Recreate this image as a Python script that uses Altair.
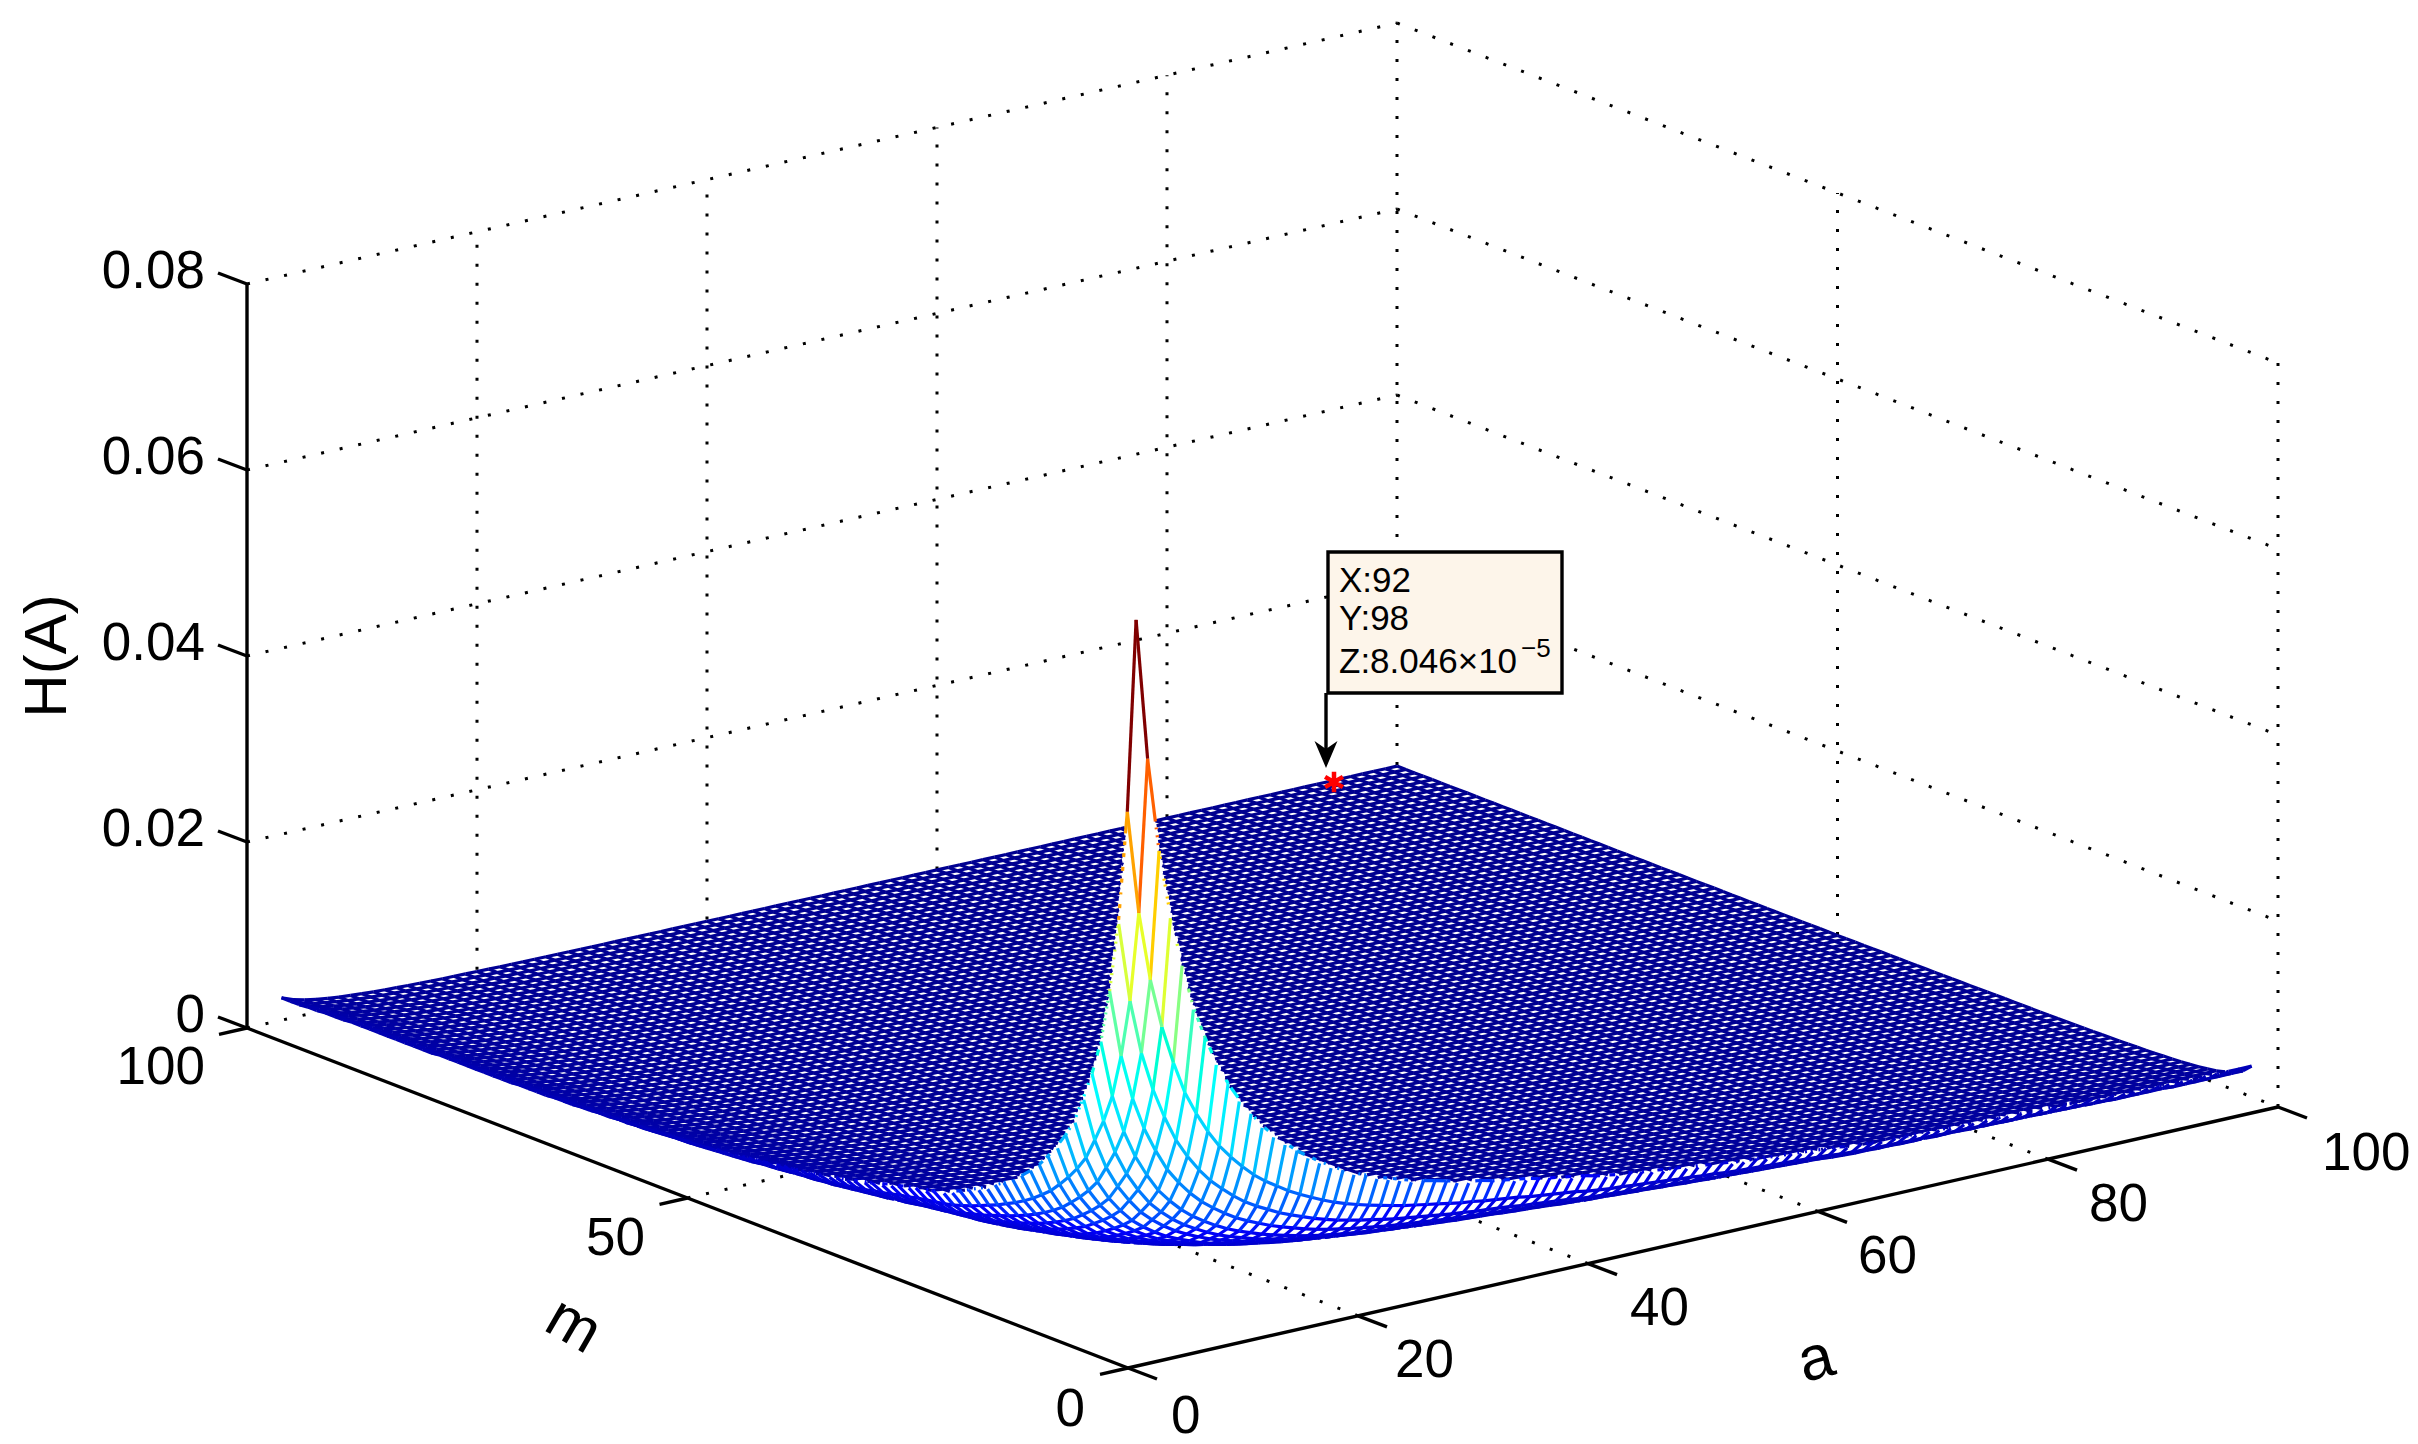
import numpy as np
import pandas as pd
import altair as alt

alt.data_transformers.disable_max_rows()

# ---- values -------------------------------------------------------------
# height along the m-edge and along the a-edge of the mesh (units of 1e-4)
edge_a = [785,633,531,458,402,354,319,289,264,244,
          226,210,197,186,175,166,158,150,143,137,
          132,127,123,119,115,112,109,106,103,100,
          98,95,93,91,89,86,84,82,80,78,
          75,73,71,70,68,67,65,64,62,61,
          59,58,56,55,54,53,52,51,50,49,
          48,47,45,44,43,43,42,42,41,41,
          41,40,40,40,39,39,39,38,38,38,
          37,37,36,36,35,35,34,34,34,34,
          34,33,33,33,33,33,33,33]
edge_m = [785,575,453,375,317,279,249,221,202,186,
          172,159,149,140,132,125,119,113,108,103,
          98,94,90,87,85,83,81,78,76,73,
          70,68,65,63,61,59,57,55,54,52,
          51,50,48,47,46,44,43,42,41,40,
          39,38,37,37,36,35,34,34,33,33,
          32,32,31,31,30,30,30,29,29,29,
          29,28,28,28,28,28,28,28,28,28,
          27,27,27,27,27,27,27,27,27,27,
          26,26,26,25,25,24,24,24]
a_ticks = [0, 20, 40, 60, 80, 100]
m_ticks = [0, 50, 100]
z_ticks = [0, 0.02, 0.04, 0.06, 0.08]
jet_pos = [0, 0.11, 0.36, 0.61, 0.86, 1]
jet_col = ["#00008f", "#0000ff", "#00ffff", "#ffff00", "#ff0000", "#800000"]

z_labels = [("0", 205, 1032), ("0.02", 205, 846), ("0.04", 205, 660), ("0.06", 205, 474), ("0.08", 205, 288)]
m_labels = [("0", 1085, 1426), ("50", 645, 1255), ("100", 205, 1084)]
a_labels = [("0", 1171, 1433), ("20", 1395, 1377), ("40", 1630, 1325), ("60", 1858, 1273), ("80", 2089, 1221), ("100", 2322, 1170)]
cursor_lines = [("X:92", 1339, 592), ("Y:98", 1339, 630), ("Z:8.046×10", 1339, 673)]

# ---- view of the 3-D box ------------------------------------------------
W, H = 2418, 1444
O = np.array([1128.0, 1368.0])
UA = np.array([11.5, -2.61])
UM = np.array([-8.81, -3.40])
UZ = 9300.0


def proj(a, m, z=0.0):
    return (O[0] + UA[0] * a + UM[0] * m, O[1] + UA[1] * a + UM[1] * m - UZ * z)


mesh_a = np.arange(3, 101)
mesh_m = np.arange(3, 101)
za = np.array(edge_a) * 1e-4
zm = np.array(edge_m) * 1e-4
Z = np.outer(za, zm) / za[0]
n = len(mesh_a)
A, M = np.meshgrid(mesh_a, mesh_m, indexing="ij")
PX, PY = proj(A, M, Z)

# hidden-line removal: far quads first, near quads over them
owner = np.full((H, W), -1, dtype=np.int32)


def fill_tri(p0, p1, p2, val):
    x0 = max(int(np.floor(min(p0[0], p1[0], p2[0]))), 0)
    x1 = min(int(np.ceil(max(p0[0], p1[0], p2[0]))), W - 1)
    y0 = max(int(np.floor(min(p0[1], p1[1], p2[1]))), 0)
    y1 = min(int(np.ceil(max(p0[1], p1[1], p2[1]))), H - 1)
    if x1 < x0 or y1 < y0:
        return
    xs = np.arange(x0, x1 + 1)[None, :]
    ys = np.arange(y0, y1 + 1)[:, None]

    def e(a, b):
        return (b[0] - a[0]) * (ys - a[1]) - (b[1] - a[1]) * (xs - a[0])

    d0, d1, d2 = e(p0, p1), e(p1, p2), e(p2, p0)
    mask = ((d0 >= 0) & (d1 >= 0) & (d2 >= 0)) | ((d0 <= 0) & (d1 <= 0) & (d2 <= 0))
    owner[y0:y1 + 1, x0:x1 + 1][mask] = val


for i in range(n - 2, -1, -1):
    for j in range(n - 2, -1, -1):
        p00 = (PX[i, j], PY[i, j])
        p10 = (PX[i + 1, j], PY[i + 1, j])
        p01 = (PX[i, j + 1], PY[i, j + 1])
        p11 = (PX[i + 1, j + 1], PY[i + 1, j + 1])
        v = i * 1000 + j
        fill_tri(p00, p10, p11, v)
        fill_tri(p00, p11, p01, v)

OI = owner // 1000
OJ = owner % 1000


def visible_runs(x0, y0, x1, y1, test):
    length = max(abs(x1 - x0), abs(y1 - y0))
    k = max(int(np.ceil(length / 2.0)), 1)
    ts = [t / k for t in range(k + 1)]
    runs, start, last = [], None, None
    for t in ts:
        px = int(round(x0 + (x1 - x0) * t))
        py = int(round(y0 + (y1 - y0) * t))
        ok = test(min(max(px, 0), W - 1), min(max(py, 0), H - 1))
        if ok:
            if start is None:
                start = t
            last = t
        elif start is not None:
            runs.append((start, last))
            start = None
    if start is not None:
        runs.append((start, last))
    return [(x0 + (x1 - x0) * s, y0 + (y1 - y0) * s, x0 + (x1 - x0) * e, y0 + (y1 - y0) * e)
            for s, e in runs if e > s]


rows = []
for i in range(n - 1, -1, -1):
    for j in range(n - 1, -1, -1):
        def test(px, py, si=i, sj=j):
            o = owner[py, px]
            if o < 0:
                return True
            return abs(OI[py, px] - si) <= 1 and abs(OJ[py, px] - sj) <= 1
        for (ii, jj) in ((i + 1, j), (i, j + 1)):
            if ii >= n or jj >= n:
                continue
            for r in visible_runs(PX[i, j], PY[i, j], PX[ii, jj], PY[ii, jj], test):
                rows.append((round(r[0], 1), round(r[1], 1), round(r[2], 1), round(r[3], 1), round(float(Z[i, j]), 5)))
mesh_df = pd.DataFrame(rows, columns=["x", "y", "x2", "y2", "z"])

# ---- grid, axes, ticks --------------------------------------------------
grid_lines = []
for z in z_ticks:
    grid_lines.append(((0, 100, z), (100, 100, z)))
    grid_lines.append(((100, 100, z), (100, 0, z)))
for a in a_ticks[1:]:
    grid_lines.append(((a, 100, 0), (a, 100, 0.08)))
    if a < 100:
        grid_lines.append(((a, 0, 0), (a, 100, 0)))
for m in m_ticks[:2]:
    grid_lines.append(((100, m, 0), (100, m, 0.08)))
grid_lines.append(((0, 50, 0), (100, 50, 0)))

grid_rows = []
for s, e in grid_lines:
    x0, y0 = proj(*s)
    x1, y1 = proj(*e)
    for r in visible_runs(x0, y0, x1, y1, lambda px, py: owner[py, px] < 0):
        grid_rows.append(r)
grid_df = pd.DataFrame(grid_rows, columns=["x", "y", "x2", "y2"])

solid = []
solid.append(proj(0, 0) + proj(100, 0))
solid.append(proj(0, 0) + proj(0, 100))
solid.append(proj(0, 100) + proj(0, 100, 0.08))
for a in a_ticks:
    p = proj(a, 0)
    solid.append(p + (p[0] + 29, p[1] + 11))
for m in m_ticks:
    p = proj(0, m)
    solid.append(p + (p[0] - 28, p[1] + 6.4))
for z in z_ticks:
    p = proj(0, 100, z)
    solid.append(p + (p[0] - 29, p[1] - 11))
axis_df = pd.DataFrame(solid, columns=["x", "y", "x2", "y2"])

sx = alt.Scale(domain=[8, W - 8], range=[0, W - 16], nice=False, zero=False)
sy = alt.Scale(domain=[8, H - 8], range=[0, H - 16], nice=False, zero=False)
X = alt.X("x:Q", scale=sx, axis=None)
Y = alt.Y("y:Q", scale=sy, axis=None)
X2 = alt.X2("x2:Q")
Y2 = alt.Y2("y2:Q")

grid = alt.Chart(grid_df).mark_rule(color="black", strokeWidth=3, strokeDash=[3, 16]).encode(X, Y, X2, Y2)
axes = alt.Chart(axis_df).mark_rule(color="black", strokeWidth=3.4).encode(X, Y, X2, Y2)

zmax = float(Z.max())
mesh = alt.Chart(mesh_df).mark_rule(strokeWidth=3.2, strokeCap="butt").encode(
    X, Y, X2, Y2,
    color=alt.Color("z:Q", legend=None,
                    scale=alt.Scale(domain=[p * zmax for p in jet_pos], range=jet_col)),
)


def text_layer(rows_, size, align="left", angle=0, color="black"):
    df = pd.DataFrame(rows_, columns=["t", "x", "y"])
    return alt.Chart(df).mark_text(font="Liberation Sans", fontSize=size, align=align,
                                   baseline="alphabetic", angle=angle, color=color).encode(X, Y, text="t:N")


# ---- data cursor ---------------------------------------------------------
box = alt.Chart(pd.DataFrame([{"x": 1328, "y": 552, "x2": 1562, "y2": 693}])).mark_rect(
    fill="#fdf5ea", stroke="black", strokeWidth=3.4).encode(X, Y, X2, Y2)
arrow_shaft = alt.Chart(pd.DataFrame([{"x": 1326, "y": 693, "x2": 1326, "y2": 750}])).mark_rule(
    color="black", strokeWidth=3.4).encode(X, Y, X2, Y2)
arrow_head = alt.Chart(pd.DataFrame([{"x": 1326, "y": 754.5}])).mark_point(
    shape="M0,1L-0.85,-1L0,-0.4L0.85,-1Z", size=729, filled=True, color="black", opacity=1).encode(X, Y)
star = alt.Chart(pd.DataFrame([{"x": 1334, "y": 782}])).mark_point(
    shape="M0,-1L0,1M-0.87,-0.5L0.87,0.5M-0.87,0.5L0.87,-0.5", size=420, filled=False,
    color="#ff0000", strokeWidth=4.5, opacity=1).encode(X, Y)

chart = alt.layer(
    grid,
    mesh,
    axes,
    text_layer(z_labels, 53, "right"),
    text_layer(m_labels, 53, "right"),
    text_layer(a_labels, 53, "left"),
    text_layer([("H(A)", 66, 656)], 60, "center", 270),
    text_layer([("m", 564, 1342)], 62, "center", 30),
    text_layer([("a", 1821, 1378)], 62, "center", 345),
    box,
    text_layer(cursor_lines, 35, "left"),
    text_layer([("−5", 1521, 657)], 26, "left"),
    arrow_shaft,
    arrow_head,
    star,
).properties(
    width=W - 16, height=H - 16, padding=0,
    autosize=alt.AutoSizeParams(type="none"),
    background="white",
).configure_view(strokeWidth=0)

chart.save("out.html", embed_options={"renderer": "svg", "actions": False})
